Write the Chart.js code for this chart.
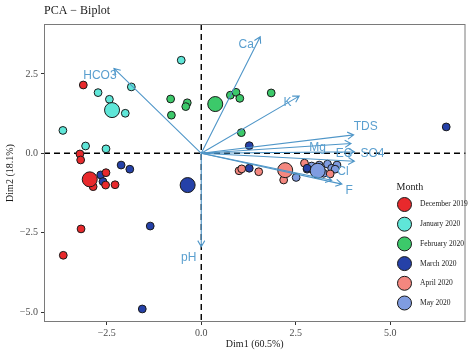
<!DOCTYPE html>
<html>
<head>
<meta charset="utf-8">
<script src="https://cdn.jsdelivr.net/npm/chart.js@4"></script>
<style>
  html, body { margin: 0; padding: 0; background: #ffffff; }
  #wrap { width: 474px; height: 356px; }
</style>
</head>
<body>
<div id="wrap"><canvas id="c" width="474" height="356"></canvas></div>
<script>
// ---------- data ----------
const months = ["December 2019", "January 2020", "February 2020", "March 2020", "April 2020", "May 2020"];
const monthColors = ["#e8292c", "#5fe6d8", "#3cc96a", "#2541a8", "#f4877f", "#7f9ce0"];

const decX = [-3.12, -3.21, -3.19, -2.86, -2.52, -2.53, -2.28, -3.18, -3.65];
const decY = [ 2.15, -0.02, -0.21, -1.05, -0.61, -1.00, -0.99, -2.38, -3.21];
const janX = [-0.53, -1.85, -2.73, -2.43, -2.01, -3.66, -3.06, -2.52];
const janY = [ 2.93,  2.09,  1.91,  1.70,  1.26,  0.72,  0.23,  0.14];
const febX = [-0.81, -0.37, -0.41, -0.79, 0.77, 0.92, 1.02, 1.85, 1.06];
const febY = [ 1.71,  1.59,  1.47,  1.20, 1.83, 1.92, 1.73, 1.90, 0.65];
const marX = [-2.12, -1.89, -2.66, -2.60, -1.35, -1.56, 1.27,  1.27, 6.48,  2.80];
const marY = [-0.37, -0.50, -0.68, -0.89, -2.29, -4.90, 0.24, -0.47, 0.83, -0.47];
const aprX = [ 1.00,  1.07,  1.52,  2.18,  2.73,  3.41];
const aprY = [-0.55, -0.49, -0.58, -0.84, -0.31, -0.65];
const mayX = [ 2.51,  2.92,  2.80,  3.34,  3.45,  3.59,  3.54,  3.24,  3.12];
const mayY = [-0.76, -0.40, -0.50, -0.34, -0.47, -0.37, -0.50, -0.63, -0.37];

// group centroids (large points), in month order
const centX = [-2.95, -2.36, 0.37, -0.36, 2.22, 3.08];
const centY = [-0.82,  1.36, 1.55, -1.00, -0.53, -0.55];

// variable arrows (tips) and their label positions
const varNames = ["Ca", "K", "TDS", "Mg", "EC", "SO4", "Cl", "F", "HCO3", "pH"];
const varX     = [1.56, 2.59, 4.03, 3.96, 4.05,  4.05,  3.45,  3.72, -2.31,  0.00];
const varY     = [3.67, 1.80, 0.58, 0.31, 0.05, -0.25, -0.85, -0.97,  2.67, -2.94];
const labX     = [1.19, 2.28, 4.35, 3.08, 3.78,  4.53,  3.75,  3.91, -2.68, -0.33];
const labY     = [3.41, 1.58, 0.83, 0.17, -0.02, 0.00, -0.58, -1.18,  2.43, -3.27];

const xTicks = [-2.5, 0.0, 2.5, 5.0];
const yTicks = [-5.0, -2.5, 0.0, 2.5];

const chartTitle = "PCA \u2212 Biplot";
const xTitle = "Dim1 (60.5%)";
const yTitle = "Dim2 (18.1%)";
const legendTitle = "Month";

// ---------- build datasets ----------
const groupsX = [decX, janX, febX, marX, aprX, mayX];
const groupsY = [decY, janY, febY, marY, aprY, mayY];
const toPts = (xs, ys) => xs.map((x, i) => ({ x: x, y: ys[i] }));

const datasets = [];
// centroids first so they are drawn on top
datasets.push({
  label: "centroids",
  data: toPts(centX, centY),
  pointRadius: 7.5,
  pointBackgroundColor: monthColors,
  pointBorderColor: "#1a1a1a",
  pointBorderWidth: 1,
  showLine: false
});
months.forEach((m, i) => {
  datasets.push({
    label: m,
    data: toPts(groupsX[i], groupsY[i]),
    pointRadius: 3.9,
    pointBackgroundColor: monthColors[i],
    pointBorderColor: "#1a1a1a",
    pointBorderWidth: 1,
    showLine: false
  });
});

const SERIF = "'Liberation Serif', 'Times New Roman', serif";
const SANS = "'Liberation Sans', Arial, sans-serif";
const fmt = v => (v < 0 ? "\u2212" : "") + Math.abs(v).toFixed(1);

const decor = {
  id: "decor",
  beforeDatasetsDraw(chart) {
    const { ctx, chartArea: a, scales } = chart;
    const x0 = scales.x.getPixelForValue(0);
    const y0 = scales.y.getPixelForValue(0);
    ctx.save();
    ctx.strokeStyle = "#000";
    ctx.lineWidth = 1.4;
    ctx.setLineDash([6, 4]);
    ctx.beginPath();
    ctx.moveTo(a.left, y0); ctx.lineTo(a.right, y0);
    ctx.moveTo(x0, a.top); ctx.lineTo(x0, a.bottom);
    ctx.stroke();
    ctx.restore();
  },
  afterDatasetsDraw(chart) {
    const { ctx, chartArea: a, scales } = chart;
    const sx = scales.x, sy = scales.y;
    const x0 = sx.getPixelForValue(0), y0 = sy.getPixelForValue(0);
    const col = "#4f96c8";
    ctx.save();
    ctx.strokeStyle = col;
    ctx.lineWidth = 1.1;
    varNames.forEach((n, i) => {
      const tx = sx.getPixelForValue(varX[i]);
      const ty = sy.getPixelForValue(varY[i]);
      ctx.beginPath();
      ctx.moveTo(x0, y0); ctx.lineTo(tx, ty);
      const ang = Math.atan2(ty - y0, tx - x0);
      const L = 7, w = Math.PI / 6;
      ctx.moveTo(tx - L * Math.cos(ang - w), ty - L * Math.sin(ang - w));
      ctx.lineTo(tx, ty);
      ctx.lineTo(tx - L * Math.cos(ang + w), ty - L * Math.sin(ang + w));
      ctx.stroke();
    });
    ctx.fillStyle = "#5a9fcf";
    ctx.font = "12px " + SANS;
    ctx.textAlign = "center";
    ctx.textBaseline = "middle";
    varNames.forEach((n, i) => {
      ctx.fillText(n, sx.getPixelForValue(labX[i]), sy.getPixelForValue(labY[i]));
    });
    ctx.restore();

    // panel border
    ctx.save();
    ctx.strokeStyle = "#7a7a7a";
    ctx.lineWidth = 1;
    ctx.strokeRect(a.left + 0.5, a.top + 0.5, a.right - a.left - 1, a.bottom - a.top - 1);
    ctx.restore();

    // legend
    ctx.save();
    const lx = a.right - 61, ly = a.top + 163;
    ctx.fillStyle = "#1a1a1a";
    ctx.font = "10px " + SERIF;
    ctx.textAlign = "left";
    ctx.textBaseline = "middle";
    ctx.fillText(legendTitle, lx - 8, ly);
    months.forEach((m, i) => {
      const cy = ly + 17.5 + i * 19.7;
      ctx.beginPath();
      ctx.arc(lx, cy, 7, 0, Math.PI * 2);
      ctx.fillStyle = monthColors[i];
      ctx.fill();
      ctx.strokeStyle = "#1a1a1a";
      ctx.lineWidth = 1;
      ctx.stroke();
      ctx.fillStyle = "#1a1a1a";
      ctx.font = "7.5px " + SERIF;
      ctx.fillText(m, lx + 15.5, cy);
    });
    ctx.restore();
  },
  afterDraw(chart) {
    const { ctx, chartArea: a } = chart;
    ctx.save();
    ctx.fillStyle = "#1a1a1a";
    ctx.textBaseline = "middle";
    ctx.font = "12px " + SERIF;
    ctx.textAlign = "left";
    ctx.fillText(chartTitle, a.left, 11);
    ctx.font = "10px " + SERIF;
    ctx.textAlign = "center";
    ctx.fillText(xTitle, (a.left + a.right) / 2, 344);
    ctx.translate(10, (a.top + a.bottom) / 2);
    ctx.rotate(-Math.PI / 2);
    ctx.fillText(yTitle, 0, 0);
    ctx.restore();
  }
};

new Chart(document.getElementById("c"), {
  type: "scatter",
  data: { datasets: datasets },
  options: {
    responsive: false,
    animation: false,
    devicePixelRatio: 1,
    layout: { padding: { top: 24, right: 7, left: 0, bottom: 0 } },
    plugins: { legend: { display: false }, tooltip: { enabled: false }, title: { display: false } },
    scales: {
      x: {
        type: "linear",
        min: -4.16, max: 6.99,
        afterBuildTicks: s => { s.ticks = xTicks.map(v => ({ value: v })); },
        afterFit: s => { s.height = 34; },
        ticks: { callback: v => fmt(v), color: "#4d4d4d", font: { family: SERIF, size: 10 }, padding: 2, maxRotation: 0 },
        grid: { drawOnChartArea: false, drawTicks: true, tickLength: 3, color: "#333" },
        border: { display: false }
      },
      y: {
        type: "linear",
        min: -5.31, max: 4.07,
        afterBuildTicks: s => { s.ticks = yTicks.map(v => ({ value: v })); },
        afterFit: s => { s.width = 44; },
        ticks: { callback: v => fmt(v), color: "#4d4d4d", font: { family: SERIF, size: 10 }, padding: 3 },
        grid: { drawOnChartArea: false, drawTicks: true, tickLength: 3, color: "#333" },
        border: { display: false }
      }
    }
  },
  plugins: [decor]
});
</script>
</body>
</html>
